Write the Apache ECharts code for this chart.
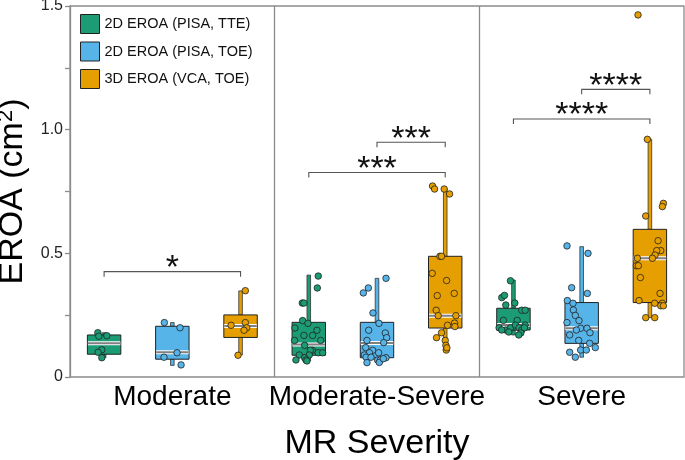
<!DOCTYPE html>
<html>
<head>
<meta charset="utf-8">
<script src="https://cdn.jsdelivr.net/npm/echarts@6/dist/echarts.min.js"></script>
<style>html,body{margin:0;padding:0;background:#fff}#c{width:685px;height:460px}</style>
</head>
<body>
<div id="c"></div>
<script>
// ---- data ----
const severities = ['Moderate', 'Moderate-Severe', 'Severe'];
const groups = ['2D EROA (PISA, TTE)', '2D EROA (PISA, TOE)', '3D EROA (VCA, TOE)'];
const groupColors = ['#1b9c74', '#56b4e9', '#e69f00'];
const yTicks = [0, 0.5, 1.0, 1.5];

// box stats per severity: [min, q1, median, q3, max]
const tteBoxes = [[0.078, 0.092, 0.136, 0.170, 0.179], [0.065, 0.088, 0.131, 0.221, 0.412], [0.170, 0.190, 0.210, 0.278, 0.392]];
const toeBoxes = [[0.047, 0.072, 0.100, 0.205, 0.220], [0.058, 0.078, 0.137, 0.221, 0.399], [0.080, 0.136, 0.197, 0.301, 0.527]];
const vcaBoxes = [[0.089, 0.160, 0.206, 0.251, 0.348], [0.109, 0.198, 0.248, 0.488, 0.760], [0.240, 0.301, 0.480, 0.597, 0.961]];

// individual points per severity: [jitter, value]
const ttePoints = [
  [[-0.092, 0.179], [-0.078, 0.165], [0.04, 0.167], [-0.034, 0.110], [-0.088, 0.100], [-0.034, 0.078]],
  [[0.139, 0.408], [0.125, 0.360], [-0.095, 0.299], [-0.071, 0.299], [-0.09, 0.228], [-0.012, 0.217], [-0.203, 0.198], [0.12, 0.189], [-0.071, 0.168], [0.056, 0.168], [-0.208, 0.148], [0.174, 0.148], [-0.061, 0.128], [0.051, 0.108], [0.022, 0.108], [-0.139, 0.089], [0.007, 0.089], [-0.061, 0.078], [0.139, 0.098], [0.203, 0.098], [-0.188, 0.069], [-0.042, 0.069], [-0.027, 0.065]],
  [[-0.044, 0.389], [-0.171, 0.321], [-0.132, 0.330], [-0.112, 0.291], [0.02, 0.299], [0.122, 0.270], [0.171, 0.270], [-0.147, 0.229], [0.054, 0.229], [0.171, 0.210], [-0.21, 0.199], [-0.112, 0.190], [-0.044, 0.199], [0.029, 0.210], [0.083, 0.199], [0.122, 0.190], [0.161, 0.199], [-0.171, 0.190], [0.108, 0.178], [0.078, 0.170], [-0.068, 0.182]]
];
const toePoints = [
  [[-0.117, 0.220], [0.113, 0.199], [0.069, 0.098], [-0.122, 0.080], [0.128, 0.049]],
  [[0.132, 0.399], [-0.127, 0.360], [-0.2, 0.340], [-0.059, 0.259], [0.029, 0.217], [-0.122, 0.189], [0.122, 0.178], [0.142, 0.159], [0.098, 0.139], [-0.147, 0.148], [-0.166, 0.119], [-0.064, 0.108], [-0.112, 0.098], [-0.186, 0.089], [0.024, 0.098], [-0.161, 0.080], [-0.088, 0.080], [0.132, 0.078], [-0.147, 0.058], [0.01, 0.069], [0.049, 0.069], [0.034, 0.059], [0.093, 0.074]],
  [[-0.215, 0.530], [0.093, 0.500], [-0.147, 0.361], [0.083, 0.338], [-0.21, 0.309], [-0.127, 0.298], [-0.122, 0.271], [-0.093, 0.249], [-0.039, 0.228], [-0.215, 0.220], [-0.015, 0.197], [-0.078, 0.190], [0.078, 0.197], [0.122, 0.179], [-0.176, 0.170], [-0.044, 0.148], [0.117, 0.136], [0.2, 0.119], [-0.015, 0.109], [0.068, 0.109], [-0.176, 0.100], [-0.093, 0.080]]
];
const vcaPoints = [
  [[0.07, 0.349], [-0.139, 0.209], [0.07, 0.220], [0.091, 0.199], [0.051, 0.189], [-0.037, 0.088]],
  [[-0.186, 0.772], [-0.156, 0.760], [-0.015, 0.760], [0.064, 0.740], [-0.078, 0.488], [-0.054, 0.488], [-0.191, 0.419], [0.02, 0.390], [-0.117, 0.329], [0.132, 0.338], [-0.132, 0.270], [-0.103, 0.248], [0.156, 0.248], [0.137, 0.218], [0.034, 0.209], [0.142, 0.204], [-0.054, 0.179], [-0.127, 0.159], [0, 0.148], [0.01, 0.128], [0.015, 0.109], [0.024, 0.118]],
  [[-0.174, 1.464], [-0.037, 0.961], [-0.061, 0.651], [0.198, 0.702], [0.183, 0.689], [0.12, 0.551], [0.159, 0.511], [0.1, 0.511], [0.076, 0.493], [0.037, 0.480], [-0.183, 0.480], [-0.198, 0.450], [-0.169, 0.450], [-0.139, 0.402], [0.149, 0.338], [-0.159, 0.309], [0.071, 0.298], [0.183, 0.298], [0.159, 0.288], [0.198, 0.288], [-0.061, 0.240], [0.071, 0.240]]
];

// significance brackets: [severity index, from group, to group, height, label]
const sigBrackets = [
  [0, 0, 2, 0.426, '*'],
  [1, 0, 2, 0.827, '***'],
  [1, 1, 2, 0.949, '***'],
  [2, 0, 2, 1.043, '****'],
  [2, 1, 2, 1.163, '****']
];

const allBoxes = [tteBoxes, toeBoxes, vcaBoxes];
const allPoints = [ttePoints, toePoints, vcaPoints];

// ---- chart ----
const BOX_W = 0.49;
const FONT = "'Liberation Sans', Arial, Helvetica, sans-serif";
const chart = echarts.init(document.getElementById('c'), null, { renderer: 'canvas' });

function renderBox(params, api) {
  const x = api.value(0);
  const lo = api.value(1), q1 = api.value(2), md = api.value(3), q3 = api.value(4), hi = api.value(5);
  const w = api.size([BOX_W, 0])[0];
  const pHi = api.coord([x, hi]), pQ3 = api.coord([x, q3]), pMd = api.coord([x, md]);
  const pQ1 = api.coord([x, q1]), pLo = api.coord([x, lo]);
  const cx = pMd[0];
  const color = api.visual('color');
  const ww = 3.6;
  return {
    type: 'group',
    children: [
      { type: 'rect', shape: { x: cx - ww / 2, y: pHi[1], width: ww, height: pQ3[1] - pHi[1] }, style: { fill: color, stroke: '#333', lineWidth: 0.8 } },
      { type: 'rect', shape: { x: cx - ww / 2, y: pQ1[1], width: ww, height: pLo[1] - pQ1[1] }, style: { fill: color, stroke: '#333', lineWidth: 0.8 } },
      { type: 'rect', shape: { x: cx - w / 2, y: pQ3[1], width: w, height: pQ1[1] - pQ3[1] }, style: { fill: color, stroke: '#222', lineWidth: 1 } },
      { type: 'line', shape: { x1: cx - w / 2 + 0.5, y1: pMd[1], x2: cx + w / 2 - 0.5, y2: pMd[1] }, style: { stroke: '#ffffff', lineWidth: 4 } },
      { type: 'line', shape: { x1: cx - w / 2 + 0.5, y1: pMd[1], x2: cx + w / 2 - 0.5, y2: pMd[1] }, style: { stroke: '#808080', lineWidth: 2 } }
    ]
  };
}

function renderBracket(params, api) {
  const x1 = api.value(0), x2 = api.value(1), y = api.value(2);
  const label = sigBrackets[params.dataIndex][4];
  const p1 = api.coord([x1, y]), p2 = api.coord([x2, y]);
  return {
    type: 'group',
    children: [
      { type: 'polyline', shape: { points: [[p1[0], p1[1] + 5], [p1[0], p1[1]], [p2[0], p2[1]], [p2[0], p2[1] + 5]] }, style: { stroke: '#555', lineWidth: 1.1, fill: null } },
      { type: 'text', x: (p1[0] + p2[0]) / 2, y: p1[1] - 3, style: { text: label, fill: '#111', font: '34px ' + FONT, align: 'center', verticalAlign: 'middle' } }
    ]
  };
}

const series = [];
groups.forEach((g, gi) => {
  series.push({
    type: 'custom', name: g, xAxisIndex: 0, yAxisIndex: 0, z: 2,
    itemStyle: { color: groupColors[gi] },
    renderItem: renderBox,
    encode: { x: 0, y: [1, 2, 3, 4, 5] },
    data: allBoxes[gi].map((b, si) => [si * 3 + gi].concat(b))
  });
});
groups.forEach((g, gi) => {
  const pts = [];
  allPoints[gi].forEach((arr, si) => arr.forEach(p => pts.push([si * 3 + gi + p[0], p[1]])));
  const s = {
    type: 'scatter', name: g, xAxisIndex: 0, yAxisIndex: 0, z: 3,
    symbol: 'circle', symbolSize: 6.5,
    itemStyle: { color: groupColors[gi], borderColor: '#222', borderWidth: 0.8, opacity: 1 },
    data: pts
  };
  if (gi === 0) {
    s.markLine = {
      silent: true, symbol: ['none', 'none'], label: { show: false },
      lineStyle: { color: '#8c8c8c', width: 1.3, type: 'solid' },
      data: [{ xAxis: 2.5 }, { xAxis: 5.5 }]
    };
  }
  series.push(s);
});
series.push({
  type: 'custom', name: 'sig', xAxisIndex: 0, yAxisIndex: 0, z: 4,
  renderItem: renderBracket,
  encode: { x: [0, 1], y: 2 },
  data: sigBrackets.map(b => [b[0] * 3 + b[1], b[0] * 3 + b[2], b[3]])
});

chart.setOption({
  animation: false,
  textStyle: { fontFamily: FONT },
  legend: {
    data: groups, orient: 'vertical', left: 80, top: 14, padding: 0,
    itemWidth: 19, itemHeight: 19, itemGap: 7.5, icon: 'rect',
    itemStyle: { borderColor: '#222', borderWidth: 1 },
    textStyle: { fontSize: 14.5, color: '#111', fontFamily: FONT },
    selectedMode: false
  },
  grid: { left: 70, right: 1, top: 6, bottom: 83, show: true, borderColor: '#8c8c8c', borderWidth: 1.3, backgroundColor: '#fff', containLabel: false, outerBoundsMode: 'none' },
  xAxis: [
    { type: 'value', min: -0.5, max: 8.5, show: false },
    {
      type: 'category', data: severities, position: 'bottom',
      axisLine: { show: false }, axisTick: { show: false },
      axisLabel: { fontSize: 28, color: '#000', margin: 6, interval: 0, hideOverlap: false, fontFamily: FONT },
      name: 'MR Severity', nameLocation: 'middle', nameGap: 50,
      nameTextStyle: { fontSize: 34, color: '#000', fontFamily: FONT }
    }
  ],
  yAxis: {
    type: 'value', min: 0, max: 1.5, interval: 0.25,
    axisLine: { show: true, onZero: false, lineStyle: { color: '#8c8c8c', width: 1.3 } },
    axisTick: { show: true, length: 5, lineStyle: { color: '#8c8c8c', width: 1.3 } },
    splitLine: { show: false },
    axisLabel: {
      fontSize: 16, color: '#222', margin: 7, fontFamily: FONT,
      formatter: v => {
        const t = yTicks.find(k => Math.abs(k - v) < 1e-9);
        if (t === undefined) return '';
        return t === 0 ? '0' : t.toFixed(1);
      }
    },
    name: 'EROA (cm{s|2})', nameLocation: 'middle', nameGap: 36,
    nameTextStyle: {
      fontSize: 34, color: '#000', fontFamily: FONT,
      rich: { s: { fontSize: 22, fontFamily: FONT, color: '#000', padding: [0, 0, 14, 0] } }
    }
  },
  series: series
});
</script>
</body>
</html>
